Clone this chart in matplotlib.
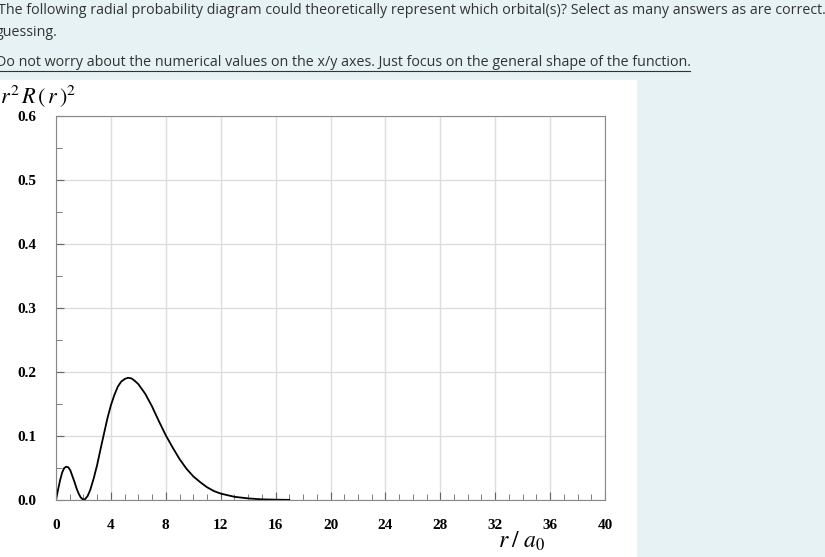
import matplotlib
matplotlib.use('Agg')
import matplotlib.pyplot as plt
from matplotlib.patches import Rectangle

# Values
r_vals = [0, 0.15, 0.3, 0.45, 0.6, 0.75, 0.9, 1.05, 1.2, 1.35, 1.5, 1.65, 1.8, 1.95, 2.1,
          2.3, 2.5, 2.75, 3, 3.25, 3.5, 3.75, 4, 4.25, 4.5, 4.75, 5, 5.25, 5.5, 5.75,
          6, 6.5, 7, 7.5, 8, 8.5, 9, 9.5, 10, 10.5, 11, 11.5, 12, 13, 14, 15, 16, 17]
p_vals = [0, 0.016, 0.031, 0.043, 0.050, 0.052, 0.051, 0.046, 0.037, 0.028, 0.018,
          0.010, 0.004, 0.001, 0.001, 0.006, 0.016, 0.034, 0.055, 0.080, 0.104, 0.128,
          0.148, 0.164, 0.177, 0.185, 0.189, 0.191, 0.190, 0.186, 0.181, 0.166, 0.146,
          0.123, 0.101, 0.082, 0.064, 0.049, 0.037, 0.028, 0.020, 0.014, 0.010, 0.005,
          0.0025, 0.001, 0.0005, 0.0002]
x_ticks = [0, 4, 8, 12, 16, 20, 24, 28, 32, 36, 40]
y_ticks = [0.0, 0.1, 0.2, 0.3, 0.4, 0.5, 0.6]

W, H = 825, 557
fig = plt.figure(figsize=(W / 100, H / 100), dpi=100)
fig.patch.set_facecolor('#e7f2f4')

# white panel behind the chart
fig.add_artist(Rectangle((0, 0), 637 / W, (H - 80) / H, transform=fig.transFigure,
                         facecolor='white', edgecolor='none', zorder=0))

sans = ['Open Sans', 'DejaVu Sans']
fig.text(-2 / W, 1 - 10 / H, 'The following radial probability diagram could theoretically represent '
         'which orbital(s)? Select as many answers as are correct.',
         family=sans, fontsize=10.3, color='#333333', va='center')
fig.text(-4 / W, 1 - 33 / H, 'guessing.', family=sans, fontsize=10.3, color='#333333', va='center')
fig.text(-4 / W, 1 - 63 / H, 'Do not worry about the numerical values on the x/y axes. '
         'Just focus on the general shape of the function.',
         family=sans, fontsize=10.3, color='#333333', va='center')
fig.add_artist(plt.Line2D([0, 690 / W], [1 - 71 / H, 1 - 71 / H], color='#333333', lw=0.8))

serif = 'Liberation Serif'
fig.text(0, 1 - 96 / H, r'$r^2\,R\,(\,r\,)^2$', fontsize=16, family=serif,
         va='center', math_fontfamily='stix')
fig.text(498 / W, 1 - 553 / H, r'$r\;/\;a_0$', fontsize=17, family=serif,
         va='bottom', math_fontfamily='stix')

ax = fig.add_axes([56 / W, 57 / H, 549 / W, 384 / H])
ax.plot(r_vals, p_vals, color='black', lw=1.3)
ax.set_xlim(0, 40)
ax.set_ylim(0, 0.6)
ax.set_xticks(x_ticks)
ax.set_yticks(y_ticks)
ax.set_xticks(range(0, 41), minor=True)
ax.set_yticks([i * 0.05 for i in range(13)], minor=True)
ax.grid(True, which='major', color='#dddddd', lw=1)
ax.set_axisbelow(True)
for s in ax.spines.values():
    s.set_color('#888888')
ax.tick_params(which='both', direction='in', color='#666666')
ax.tick_params(which='major', length=6)
ax.tick_params(which='minor', length=4)
ax.tick_params(axis='x', pad=14)
ax.tick_params(axis='y', pad=14)
ax.set_xticklabels([str(v) for v in x_ticks], family=serif, fontweight='bold', fontsize=11)
ax.set_yticklabels([f'{v:.1f}' for v in y_ticks], family=serif, fontweight='bold', fontsize=11)

fig.savefig('out.png', dpi=100, facecolor=fig.get_facecolor())
